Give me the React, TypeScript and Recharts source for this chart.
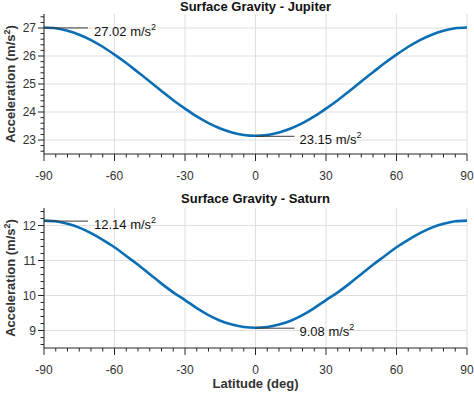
import React from 'react';
import {
  CartesianGrid,
  Line,
  LineChart,
  ReferenceDot,
  XAxis,
  YAxis,
} from 'recharts';

// latitude samples (deg), every 5 deg
const LATITUDE = [
  -90, -85, -80, -75, -70, -65, -60, -55, -50, -45, -40, -35, -30, -25, -20, -15, -10, -5, 0,
  5, 10, 15, 20, 25, 30, 35, 40, 45, 50, 55, 60, 65, 70, 75, 80, 85, 90,
];

// surface gravity (m/s^2)
const JUPITER_G = [
  27.02, 26.99, 26.9, 26.76, 26.57, 26.33, 26.05, 25.75, 25.42, 25.09, 24.75, 24.42, 24.12,
  23.84, 23.6, 23.41, 23.27, 23.18, 23.15, 23.18, 23.27, 23.41, 23.6, 23.84, 24.12, 24.42,
  24.75, 25.09, 25.42, 25.75, 26.05, 26.33, 26.57, 26.76, 26.9, 26.99, 27.02,
];
const SATURN_G = [
  12.14, 12.12, 12.05, 11.94, 11.78, 11.59, 11.38, 11.13, 10.88, 10.61, 10.34, 10.09, 9.87,
  9.64, 9.44, 9.28, 9.17, 9.1, 9.08, 9.1, 9.17, 9.28, 9.44, 9.64, 9.87, 10.09, 10.34, 10.61,
  10.88, 11.13, 11.38, 11.59, 11.78, 11.94, 12.05, 12.12, 12.14,
];

const X_MAJOR = [-90, -60, -30, 0, 30, 60, 90];
const JUPITER_Y_MAJOR = [23, 24, 25, 26, 27];
const SATURN_Y_MAJOR = [9, 10, 11, 12];

const FONT = '"Liberation Sans", Arial, Helvetica, sans-serif';
const AXIS = '#262626';
const TEXT = '#333333';
const GRID = '#dfdfdf';
const BLUE = '#0A6EB5';

const W = 474;

// minor ticks every 5 deg / 0.2 units
const X_MINOR = Array.from({ length: 37 }, (_, i) => -90 + i * 5);
const yMinor = (lo: number, hi: number) => {
  const out: number[] = [];
  for (let v = lo + 0.1; v < hi; v += 0.2) out.push(Math.round(v * 10) / 10);
  return out;
};

const isInt = (v: number) => Math.abs(v - Math.round(v)) < 1e-6;

function XTick(props: any) {
  const { x, y, payload } = props;
  const v = payload.value as number;
  const major = v % 30 === 0;
  return (
    <g>
      <line x1={x} x2={x} y1={y} y2={y + (major ? 7 : 3.5)} stroke={AXIS} strokeWidth={1} />
      {major && (
        <text x={x} y={y + 26} textAnchor="middle" fontSize={12} fontFamily={FONT} fill={TEXT}>
          {v}
        </text>
      )}
    </g>
  );
}

function YTick(props: any) {
  const { x, y, payload } = props;
  const v = payload.value as number;
  const major = isInt(v);
  return (
    <g>
      <line x1={x - (major ? 6 : 3.5)} x2={x} y1={y} y2={y} stroke={AXIS} strokeWidth={1} />
      {major && (
        <text x={x - 8} y={y + 4.3} textAnchor="end" fontSize={12} fontFamily={FONT} fill={TEXT}>
          {v}
        </text>
      )}
    </g>
  );
}

// leader line from the point, then the value text with a squared unit
function Callout(props: any) {
  const { cx, cy, len, gap, value } = props;
  return (
    <g>
      <line x1={cx} x2={cx + len} y1={cy + 0.5} y2={cy + 0.5} stroke="#3a3a3a" strokeWidth={1} />
      <text x={cx + len + gap} y={cy + 8.5} fontSize={13} fontFamily={FONT} fill="#111">
        {`${value.toFixed(2)} m/s`}
        <tspan dy={-6} fontSize={9}>
          2
        </tspan>
      </text>
    </g>
  );
}

function YLabel(props: any) {
  const { x, y, height } = props.viewBox;
  const cx = x + 15;
  const cy = y + height / 2;
  return (
    <text
      transform={`translate(${cx},${cy}) rotate(-90)`}
      textAnchor="middle"
      fontSize={13}
      fontWeight="bold"
      fontFamily={FONT}
      fill={TEXT}
    >
      Acceleration (m/s
      <tspan dy={-5} fontSize={9}>
        2
      </tspan>
      <tspan dy={5}>)</tspan>
    </text>
  );
}

function XLabel(props: any) {
  const { x, y, width } = props.viewBox;
  return (
    <text
      x={x + width / 2}
      y={y + 40}
      textAnchor="middle"
      fontSize={13}
      fontWeight="bold"
      fontFamily={FONT}
      fill={TEXT}
    >
      Latitude (deg)
    </text>
  );
}

type PanelProps = {
  title: string;
  titleTop: number;
  values: number[];
  domain: [number, number];
  yMajor: number[];
  top: number;
  height: number;
  xLabel?: boolean;
};

function Panel({ title, titleTop, values, domain, yMajor, top, height, xLabel }: PanelProps) {
  const data = LATITUDE.map((lat, i) => ({ lat, g: values[i] }));
  const mid = LATITUDE.indexOf(0);
  return (
    <div style={{ position: 'absolute', left: 0, top, width: W, height }}>
      <div
        style={{
          position: 'absolute',
          left: 44,
          width: 423,
          top: titleTop,
          textAlign: 'center',
          fontFamily: FONT,
          fontWeight: 'bold',
          fontSize: 13,
          lineHeight: '14px',
          color: '#111',
        }}
      >
        {title}
      </div>
      <LineChart
        width={W}
        height={height}
        data={data}
        margin={{ top: 14, right: 7, bottom: 0, left: 0 }}
      >
        <CartesianGrid
          stroke={GRID}
          verticalValues={X_MAJOR}
          horizontalValues={yMajor}
        />
        <XAxis
          dataKey="lat"
          type="number"
          domain={[-90, 90]}
          ticks={X_MINOR}
          interval={0}
          tick={<XTick />}
          tickLine={false}
          tickSize={0}
          tickMargin={0}
          axisLine={{ stroke: AXIS }}
          height={height - 154}
          label={xLabel ? <XLabel /> : undefined}
        />
        <YAxis
          type="number"
          domain={domain}
          ticks={yMinor(domain[0], domain[1])}
          interval={0}
          tick={<YTick />}
          tickLine={false}
          tickSize={0}
          tickMargin={0}
          axisLine={{ stroke: AXIS }}
          width={44}
          allowDataOverflow
          label={<YLabel />}
        />
        <Line
          type="monotone"
          dataKey="g"
          stroke={BLUE}
          strokeWidth={2.6}
          dot={false}
          isAnimationActive={false}
        />
        <ReferenceDot
          x={LATITUDE[0]}
          y={values[0]}
          r={0}
          shape={(p: any) => <Callout {...p} len={44} gap={6} value={values[0]} />}
        />
        <ReferenceDot
          x={LATITUDE[mid]}
          y={values[mid]}
          r={0}
          shape={(p: any) => <Callout {...p} len={39} gap={5} value={values[mid]} />}
        />
      </LineChart>
    </div>
  );
}

export default function App() {
  return (
    <div style={{ position: 'absolute', left: 0, top: 0, width: W, height: 393, background: '#fff' }}>
      <Panel
        title="Surface Gravity - Jupiter"
        titleTop={0}
        values={JUPITER_G}
        domain={[22.5, 27.5]}
        yMajor={JUPITER_Y_MAJOR}
        top={0}
        height={190}
      />
      <Panel
        title="Surface Gravity - Saturn"
        titleTop={-2}
        values={SATURN_G}
        domain={[8.5, 12.5]}
        yMajor={SATURN_Y_MAJOR}
        top={194}
        height={199}
        xLabel
      />
    </div>
  );
}
